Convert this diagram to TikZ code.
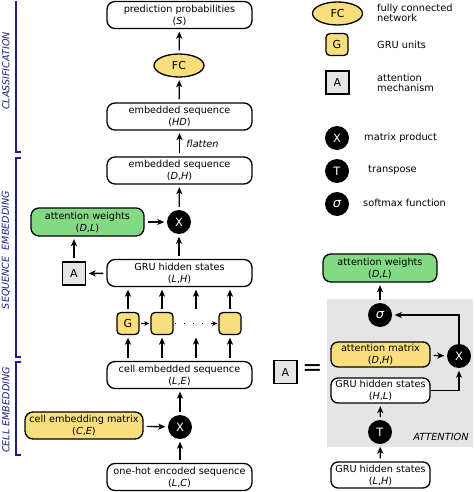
\documentclass[tikz,border=0pt]{standalone}
\usepackage{fontspec}
\setmainfont{DejaVu Sans}
\usetikzlibrary{arrows.meta,shapes.geometric}
\definecolor{yel}{HTML}{F9DE7E}
\definecolor{grn}{HTML}{84D984}
\definecolor{bgray}{HTML}{E5E5E5}
\definecolor{navyb}{HTML}{1C1C86}
\newcommand{\bt}{\fontsize{9.7}{12}\selectfont}
\newcommand{\lt}{\fontsize{9.8}{10}\selectfont}
\tikzset{
  wbox/.style={rectangle, rounded corners=8pt, draw, line width=1.3pt, fill=white,
    minimum width=145pt, minimum height=27pt, align=center, font=\bt, inner sep=1pt},
  ybox/.style={wbox, fill=yel},
  gbox/.style={wbox, fill=grn},
  circ/.style={circle, fill=black, minimum size=24pt, inner sep=0pt, text=white, font=\fontsize{11.5}{12}\selectfont},
  gunit/.style={rectangle, rounded corners=4pt, draw, line width=1.3pt, fill=yel,
    minimum size=22pt, inner sep=0pt, font=\fontsize{11}{12}\selectfont},
  abox/.style={rectangle, draw, line width=1.3pt, fill=bgray, minimum size=23pt,
    inner sep=0pt, font=\fontsize{11}{12}\selectfont},
  fcell/.style={ellipse, draw, line width=1.3pt, fill=yel, minimum width=50pt,
    minimum height=23pt, inner sep=0pt, font=\fontsize{11}{12}\selectfont},
  arr/.style={-{Stealth[length=7pt,width=6pt,inset=1.8pt]}, line width=1.3pt,
    shorten >=2.5pt, shorten <=3pt},
  brk/.style={draw=navyb, line width=1.4pt},
  brktext/.style={rotate=90, text=navyb, font=\fontsize{9.6}{11}\itshape\selectfont},
  leg/.style={anchor=west, align=left, font=\lt, inner sep=0pt}
}
\begin{document}
\begin{tikzpicture}[x=1pt,y=-1pt]
\useasboundingbox (0,0) rectangle (474,492);

% ---------- main pipeline ----------
\node[wbox] (pred) at (179.5,15) {prediction probabilities\\(\textit{S})};
\node[fcell] (fc) at (179,65.5) {FC};
\node[wbox] (emb1) at (179.5,116.5) {embedded sequence\\(\textit{HD})};
\node[wbox] (emb2) at (179.5,170.5) {embedded sequence\\(\textit{D},\textit{H})};
\node[circ] (x1) at (179,222) {X};
\node[gbox, minimum width=113pt, minimum height=28pt] (attw) at (87.5,222) {attention weights\\(\textit{D},\textit{L})};
\node[wbox] (gruh) at (179.5,273) {GRU hidden states\\(\textit{L},\textit{H})};
\node[abox] (A1) at (74,273.5) {A};
\node[gunit] (g1) at (128,323.5) {G};
\node[gunit] (g2) at (162,323.5) {};
\node[gunit] (g3) at (230,323.5) {};
\coordinate (g0top) at (196,312);
\coordinate (g0bot) at (196,335);
\node[wbox] (cellemb) at (179.5,375) {cell embedded sequence\\(\textit{L},\textit{E})};
\node[circ] (x2) at (180,427) {X};
\node[ybox, minimum width=118pt] (cem) at (84,425.5) {cell embedding matrix\\(\textit{C},\textit{E})};
\node[wbox] (onehot) at (179.5,477) {one-hot encoded sequence\\(\textit{L},\textit{C})};

\draw[arr] (fc) -- (pred);
\draw[arr] (emb1) -- (fc);
\draw[arr] (emb2) -- node[right=3pt, font=\bt\itshape] (flat) {flatten} (emb1);
\draw[arr] (x1) -- (emb2);
\draw[arr] (gruh.north -| x1) -- (x1);
\draw[arr] (attw) -- (x1);
\draw[arr] (gruh) -- (A1);
\draw[arr] (A1) -- (attw.south -| A1);
\draw[arr] (g1) -- (g1 |- gruh.south);
\draw[arr] (g2) -- (g2 |- gruh.south);
\draw[arr] (g0top) -- (g0top |- gruh.south);
\draw[arr] (g3) -- (g3 |- gruh.south);
\draw[arr] (cellemb.north -| g1) -- (g1);
\draw[arr] (cellemb.north -| g2) -- (g2);
\draw[arr] (cellemb.north -| g0bot) -- (g0bot);
\draw[arr] (cellemb.north -| g3) -- (g3);
\draw[arr, shorten <=1pt, shorten >=1pt, -{Stealth[length=5pt,width=4.5pt,inset=1pt]}, line width=1pt] (g1) -- (g2);
\draw[arr, shorten <=1pt, shorten >=1pt, -{Stealth[length=5pt,width=4.5pt,inset=1pt]}, line width=1pt, dash pattern=on 1.2pt off 8pt] (g2) -- (g3);
\draw[arr] (x2) -- (cellemb.south -| x2);
\draw[arr] (cem) -- (x2);
\draw[arr] (onehot.north -| x2) -- (x2);

% ---------- brackets ----------
\draw[brk] (16,0.7) -- (16,152) -- (21,152);
\draw[brk] (21,158) -- (16,158) -- (16,357) -- (21,357);
\draw[brk] (21,362) -- (16,362) -- (16,455) -- (21,455);
\node[brktext] (tcls) at (6,71) {CLASSIFICATION};
\node[brktext] (tseq) at (6,250) {SEQUENCE\ \ EMBEDDING};
\node[brktext] (tcell) at (6,410) {CELL EMBEDDING};

% ---------- legend ----------
\node[fcell] (lfc) at (337.5,13.5) {FC};
\node[leg] (lfct) at (377,13) {fully connected\\network};
\node[gunit] (lg) at (337,44.5) {G};
\node[leg] (lgt) at (377,45) {GRU units};
\node[abox] (la) at (337.5,82.5) {A};
\node[leg] (lat) at (377,83) {attention\\mechanism};
\node[circ] (lx) at (337,138) {X};
\node[leg] (lxt) at (364,138) {matrix product};
\node[circ] (lT) at (337,171) {T};
\node[leg] (lTt) at (368,170) {transpose};
\node[circ, font=\fontsize{13}{14}\itshape\selectfont] (ls) at (337,204) {σ};
\node[leg] (lst) at (363,203) {softmax function};

% ---------- attention detail ----------
\node[rectangle, fill=bgray, minimum width=146pt, minimum height=148pt, inner sep=0pt] (attbg) at (400,373) {};
\node[font=\lt\itshape, inner sep=0pt] (attlab) at (441,437) {ATTENTION};
\node[gbox, minimum width=114pt, minimum height=28pt] (attw2) at (380,268) {attention weights\\(\textit{D},\textit{L})};
\node[circ, font=\fontsize{13}{14}\itshape\selectfont] (sig) at (380,315) {σ};
\node[circ] (x3) at (459,356) {X};
\node[ybox, minimum width=99pt, minimum height=25pt, rounded corners=7pt] (attm) at (380.5,354.5) {attention matrix\\(\textit{D},\textit{H})};
\node[wbox, minimum width=99pt, minimum height=25pt, rounded corners=7pt] (gruhl) at (380.5,390.5) {GRU hidden states\\(\textit{H},\textit{L})};
\node[circ] (T1) at (380,432) {T};
\node[wbox, minimum width=99pt, minimum height=26pt, rounded corners=7pt] (gruhr) at (380.5,475) {GRU hidden states\\(\textit{L},\textit{H})};
\node[abox] (A2) at (285.5,372) {A};
\node[font=\fontsize{24}{24}\selectfont, inner sep=0pt] (eq) at (312.5,370) {=};

\draw[arr] (sig) -- (attw2);
\draw[arr, shorten <=0pt] (x3.north) |- (sig.east);
\draw[arr] (attm) -- (x3);
\draw[arr, shorten <=0pt] (gruhl.east) -| (x3.south);
\draw[arr] (T1) -- (gruhl);
\draw[arr] (gruhr) -- (T1);
\end{tikzpicture}
\end{document}
